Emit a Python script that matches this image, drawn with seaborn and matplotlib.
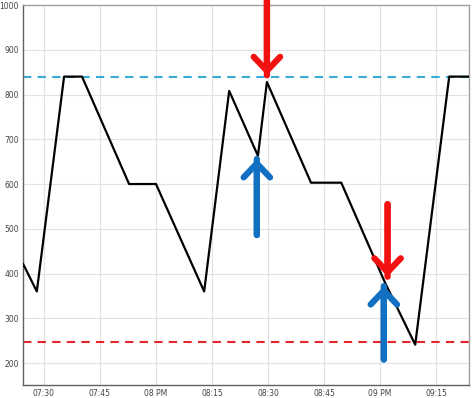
import matplotlib
matplotlib.use("Agg")
import matplotlib.pyplot as plt
import matplotlib.dates as mdates
import seaborn as sns
import pandas as pd

# ---- data ----
times = ["07:24:24", "07:28:06", "07:35:24", "07:40:12", "07:52:48", "08:00:00",
         "08:12:54", "08:19:36", "08:27:18", "08:29:42", "08:41:30", "08:49:36",
         "09:01:18", "09:09:24", "09:18:30", "09:23:48"]
values = [422, 360, 840, 840, 600, 600, 360, 808, 663, 828, 603, 603, 380, 241, 840, 840]
upper_level = 840
lower_level = 248
tick_times = ["07:30", "07:45", "08:00", "08:15", "08:30", "08:45", "09:00", "09:15"]
tick_labels = ["07:30", "07:45", "08 PM", "08:15", "08:30", "08:45", "09 PM", "09:15"]

day = "2024-01-01 "
df = pd.DataFrame({"t": pd.to_datetime([day + t for t in times]), "v": values})

sns.set_style("whitegrid")
plt.rcParams["font.family"] = ["DejaVu Sans"]

fig = plt.figure(figsize=(4.74, 3.98), dpi=100)
ax = fig.add_axes([23 / 474, 13 / 398, 446 / 474, 380 / 398])

sns.lineplot(data=df, x="t", y="v", ax=ax, color="black", linewidth=1.6, zorder=3)

ax.axhline(upper_level, color="#3aabd4", linestyle=(0, (4, 3)), linewidth=1.5, zorder=2)
ax.axhline(lower_level, color="#e3262b", linestyle=(0, (4, 3)), linewidth=1.5, zorder=2)

ax.set_xlim(pd.Timestamp(day + "07:24:24"), pd.Timestamp(day + "09:23:48"))
ax.set_ylim(151, 1000)
ax.set_yticks([200, 300, 400, 500, 600, 700, 800, 900, 1000])
ax.set_xticks(pd.to_datetime([day + t for t in tick_times]))
ax.set_xticklabels(tick_labels)
ax.set_xlabel("")
ax.set_ylabel("")
ax.tick_params(axis="both", length=0, labelsize=5.5, colors="#444444", pad=3)

ax.grid(True, color="#e2e2e2", linewidth=0.8)
for s in ax.spines.values():
    s.set_visible(True)
    s.set_color("#a0a0a0")
    s.set_linewidth(1.0)
ax.spines["left"].set_color("#606060")
ax.spines["bottom"].set_color("#606060")

def arrow(t, y_from, y_to, color):
    x = mdates.date2num(pd.Timestamp(day + t))
    ax.annotate("", xy=(x, y_to), xytext=(x, y_from),
                arrowprops=dict(arrowstyle="-",
                                color=color, lw=4.5, shrinkA=0, shrinkB=0,
                                capstyle="round"),
                annotation_clip=False, zorder=5)
    ax.annotate("", xy=(x, y_to), xytext=(x, y_from),
                arrowprops=dict(arrowstyle="->,head_length=1.0,head_width=0.95",
                                color=color, lw=4.5, shrinkA=0, shrinkB=0,
                                joinstyle="miter"),
                annotation_clip=False, zorder=5)

red = "#f21111"
blue = "#1170c2"
arrow("08:29:42", 1012, 843, red)
arrow("08:27:00", 486, 656, blue)
arrow("09:02:00", 555, 393, red)
arrow("09:01:00", 208, 372, blue)

fig.savefig("out.png", dpi=100)
